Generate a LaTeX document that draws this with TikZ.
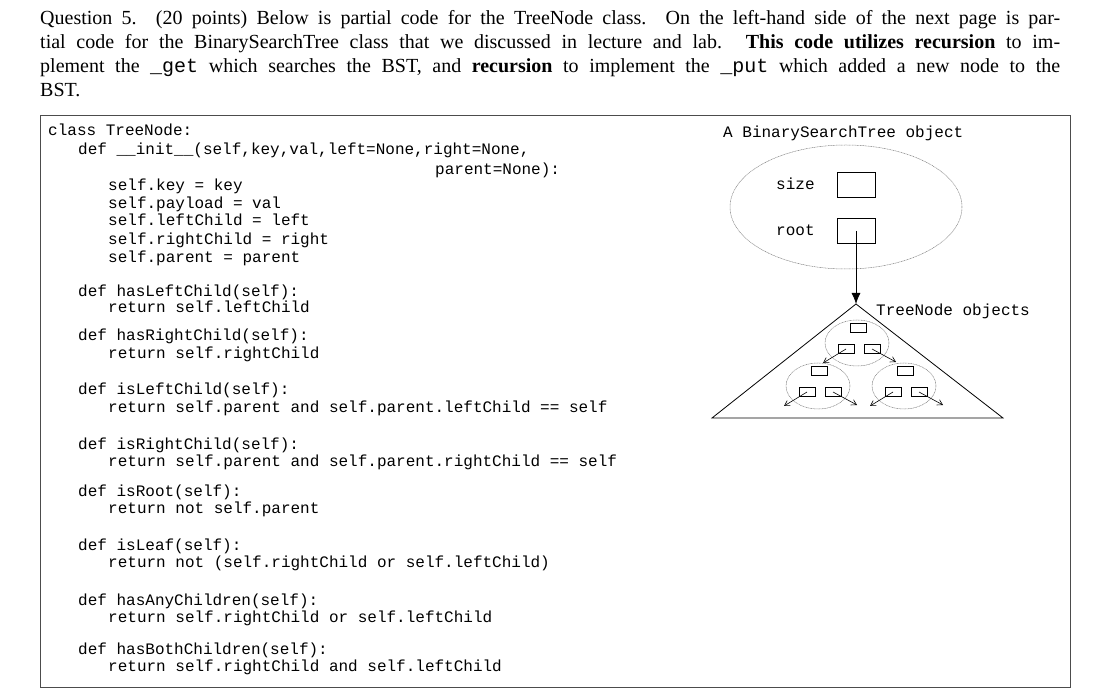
\documentclass[tikz,border=0pt]{standalone}
\usepackage{fontspec}
\setmainfont{Liberation Serif}
\setmonofont{Liberation Mono}
\usetikzlibrary{arrows.meta,shapes.geometric}
\begin{document}
\begin{tikzpicture}[x=1pt,y=-1pt,
  code/.style={anchor=base west,inner sep=0,font=\fontsize{16}{18}\ttfamily},
  lbl/.style={anchor=base west,inner sep=0,font=\fontsize{16}{18}\ttfamily},
  fld/.style={draw,line width=0.8pt,minimum width=38pt,minimum height=25pt,inner sep=0},
  sbox/.style={draw,line width=0.6pt,minimum width=16pt,minimum height=9pt,inner sep=0},
  obj/.style={draw=gray,dash pattern=on 1pt off 0.6pt,line width=0.5pt,ellipse,inner sep=0},
  ptr/.style={-{Straight Barb[length=5pt,width=6pt]},line width=0.6pt}]
\useasboundingbox (0,0) rectangle (1111,700);
\node[anchor=north west,inner sep=0,text width=1020pt,align=justify,font=\fontsize{20}{24}\selectfont] (q) at (40,10)
{Question 5. (20 points) Below is partial code for the TreeNode class. On the left-hand side of the next page is par-\linebreak tial code for the BinarySearchTree class that we discussed in lecture and lab. \textbf{This code utilizes recursion} to im-\linebreak plement the \texttt{\_get} which searches the BST, and \textbf{recursion} to implement the \texttt{\_put} which added a new node to the\linebreak BST.};
\draw[line width=0.8pt,draw=black!70] (40,115) rectangle (1070,687);
% code
\node[code] (c1) at (48,136) {class TreeNode:};
\node[code] (c2) at (78,155) {def \_\_init\_\_(self,key,val,left=None,right=None,};
\node[code] (c3) at (435,175) {parent=None):};
\node[code] (c4) at (108,191) {self.key = key};
\node[code] (c5) at (108,209) {self.payload = val};
\node[code] (c6) at (108,226) {self.leftChild = left};
\node[code] (c7) at (108,245) {self.rightChild = right};
\node[code] (c8) at (108,263) {self.parent = parent};
\node[code] (c9) at (78,297) {def hasLeftChild(self):};
\node[code] (c10) at (108,313) {return self.leftChild};
\node[code] (c11) at (78,341) {def hasRightChild(self):};
\node[code] (c12) at (108,359) {return self.rightChild};
\node[code] (c13) at (78,395) {def isLeftChild(self):};
\node[code] (c14) at (108,413) {return self.parent and self.parent.leftChild == self};
\node[code] (c15) at (78,449) {def isRightChild(self):};
\node[code] (c16) at (108,466) {return self.parent and self.parent.rightChild == self};
\node[code] (c17) at (78,496) {def isRoot(self):};
\node[code] (c18) at (108,513) {return not self.parent};
\node[code] (c19) at (78,550) {def isLeaf(self):};
\node[code] (c20) at (108,567) {return not (self.rightChild or self.leftChild)};
\node[code] (c21) at (78,605) {def hasAnyChildren(self):};
\node[code] (c22) at (108,622) {return self.rightChild or self.leftChild};
\node[code] (c23) at (78,654) {def hasBothChildren(self):};
\node[code] (c24) at (108,671) {return self.rightChild and self.leftChild};
% BST object
\node[lbl] (t1) at (723,138) {A BinarySearchTree object};
\node[obj,minimum width=232pt,minimum height=124pt] (e) at (846,207) {};
\node[lbl] (sz) at (776,190) {size};
\node[lbl] (rt) at (776,236) {root};
\node[fld] (sb) at (856,185) {};
\node[fld] (rb) at (856,231) {};
\coordinate (apex) at (856,304);
\draw[-{Latex[length=11pt,width=9pt]},line width=0.8pt] (rb.center) -- (apex);
\draw[line width=0.8pt] (apex) -- (712,418) -- (1003,418) -- cycle;
\node[lbl] (t2) at (876,316) {TreeNode objects};
% tree nodes
\foreach \n/\cx/\cy in {p/857/343,l/818/386,r/904/386}{
  \node[obj,minimum width=64pt,minimum height=46pt] (\n) at (\cx,\cy) {};
  \node[sbox] (\n t) at (\cx+1,\cy-15) {};
  \node[sbox] (\n l) at (\cx-11,\cy+6) {};
  \node[sbox] (\n r) at (\cx+15,\cy+6) {};
  \coordinate (\n la) at (\cx-34,\cy+20);
  \coordinate (\n ra) at (\cx+39,\cy+19);
  \draw[ptr] (\n l.center) -- (\n la);
  \draw[ptr] (\n r.center) -- (\n ra);
}
\end{tikzpicture}
\end{document}
